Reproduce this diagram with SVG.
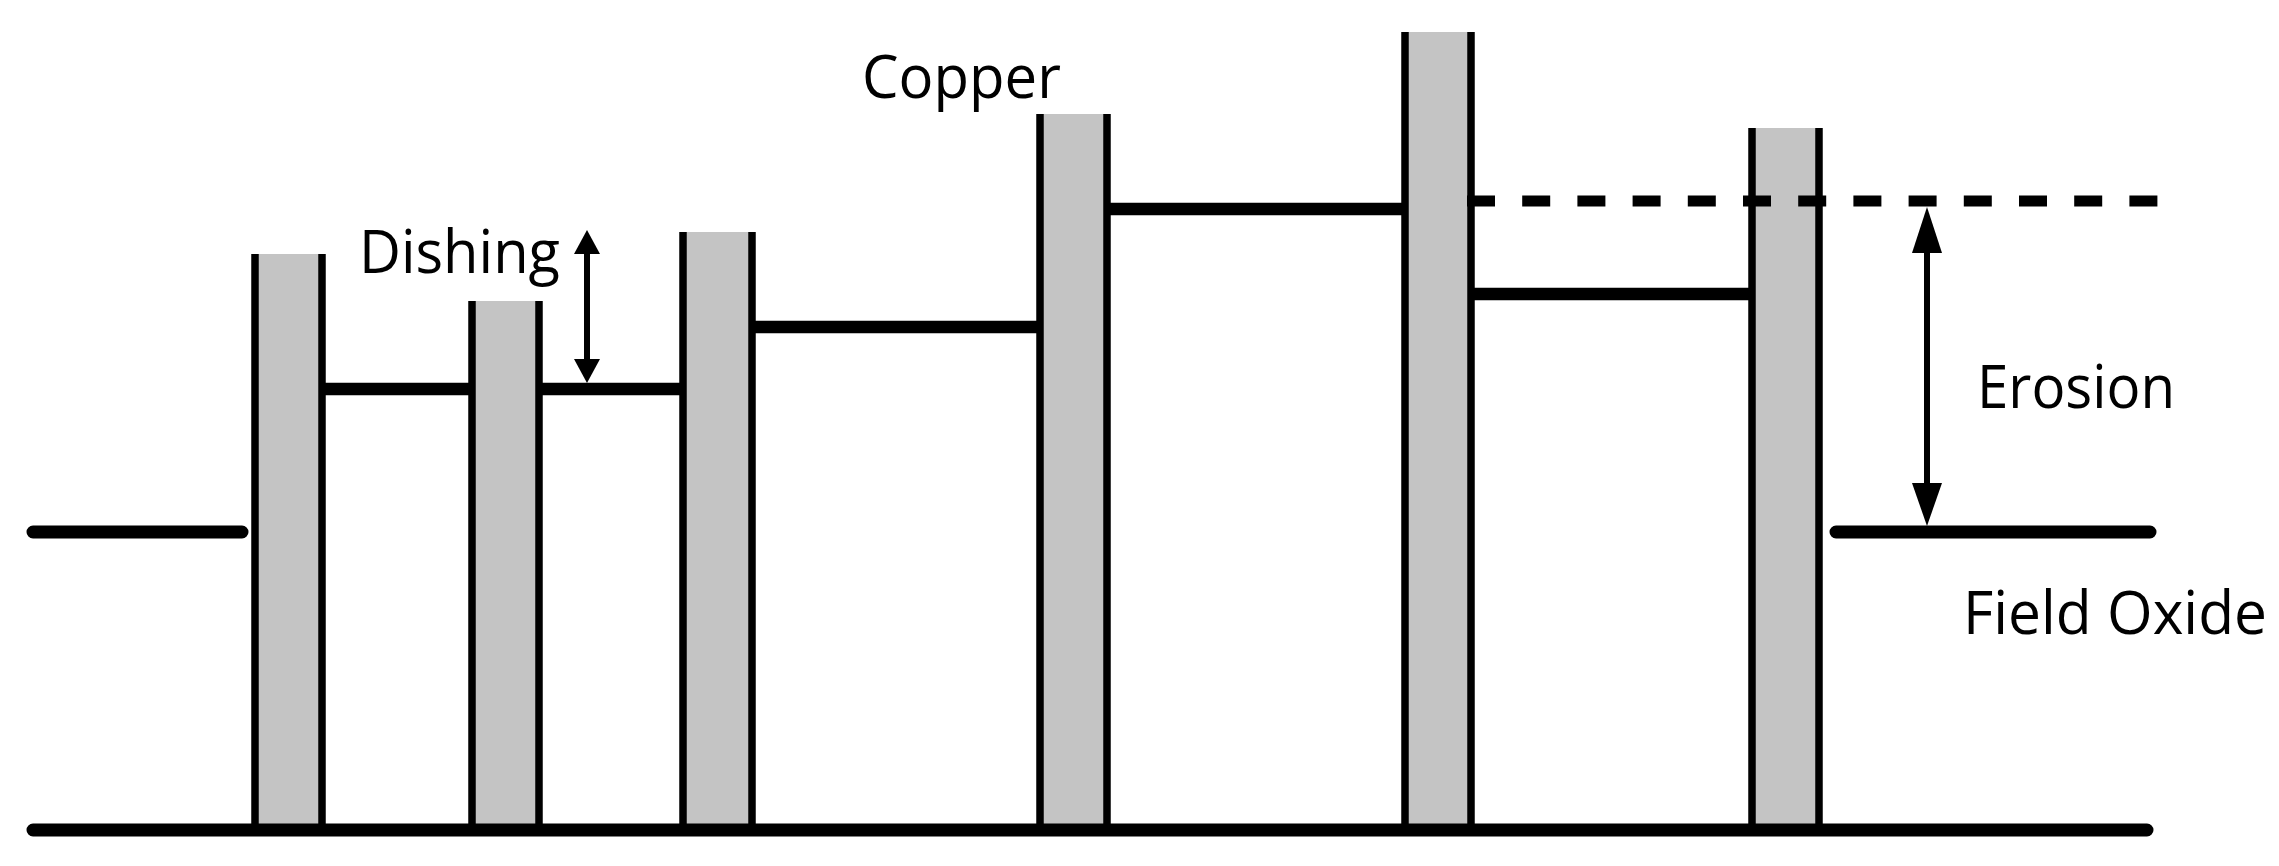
<svg xmlns="http://www.w3.org/2000/svg" width="2279" height="866" viewBox="0 0 2279 866">
<style>
.fill{fill:#c4c4c4;stroke:none}
.edge{stroke:#000;stroke-width:7.5;fill:none}
.cu{stroke:#000;stroke-width:12.5;fill:none;stroke-linecap:butt}
.ox{stroke:#000;stroke-width:13;fill:none;stroke-linecap:round}
.dash{stroke:#000;stroke-width:11;fill:none;stroke-dasharray:28 27.2}
.shaft{stroke:#000;stroke-width:6;fill:none}
.head{fill:#000;stroke:none}
.lbl{font-family:"Open Sans","Noto Sans","Liberation Sans",sans-serif;font-size:60px;fill:#000}
</style>
<rect width="2279" height="866" fill="#fff"/>
<g id="pillar1"><rect class="fill" x="255" y="254" width="67" height="576"/><path class="edge" d="M255 254V830M322 254V830"/></g>
<g id="pillar2"><rect class="fill" x="472" y="301" width="67" height="529"/><path class="edge" d="M472 301V830M539 301V830"/></g>
<g id="pillar3"><rect class="fill" x="683" y="232" width="69" height="598"/><path class="edge" d="M683 232V830M752 232V830"/></g>
<g id="pillar4"><rect class="fill" x="1040" y="114" width="67" height="716"/><path class="edge" d="M1040 114V830M1107 114V830"/></g>
<g id="pillar5"><rect class="fill" x="1405" y="32" width="66" height="798"/><path class="edge" d="M1405 32V830M1471 32V830"/></g>
<g id="pillar6"><rect class="fill" x="1752" y="128" width="67" height="702"/><path class="edge" d="M1752 128V830M1819 128V830"/></g>
<g id="copper-levels">
<path class="cu" d="M322 389H472M539 389H683M752 327H1040M1107 209H1405M1471 294H1752"/>
</g>
<g id="oxide">
<path class="ox" d="M33 532H242M1836 532H2150M33 830H2147"/>
<path class="dash" d="M1467 201H2158"/>
</g>
<g id="connectors">
<path class="shaft" d="M587 250V362"/>
<path class="head" d="M587 230L600 254H574Z"/>
<path class="head" d="M587 383L600 359H574Z"/>
<path class="shaft" d="M1927 250V486"/>
<path class="head" d="M1927 207L1942 253H1912Z"/>
<path class="head" d="M1927 526L1942 483H1912Z"/>
</g>
<g id="labels">
<text class="lbl" x="359" y="273" textLength="201" lengthAdjust="spacingAndGlyphs">Dishing</text>
<text class="lbl" x="862" y="98" textLength="199" lengthAdjust="spacingAndGlyphs">Copper</text>
<text class="lbl" x="1977" y="408" textLength="198" lengthAdjust="spacingAndGlyphs">Erosion</text>
<text class="lbl" x="1963" y="634" textLength="304" lengthAdjust="spacingAndGlyphs">Field Oxide</text>
</g>
</svg>
